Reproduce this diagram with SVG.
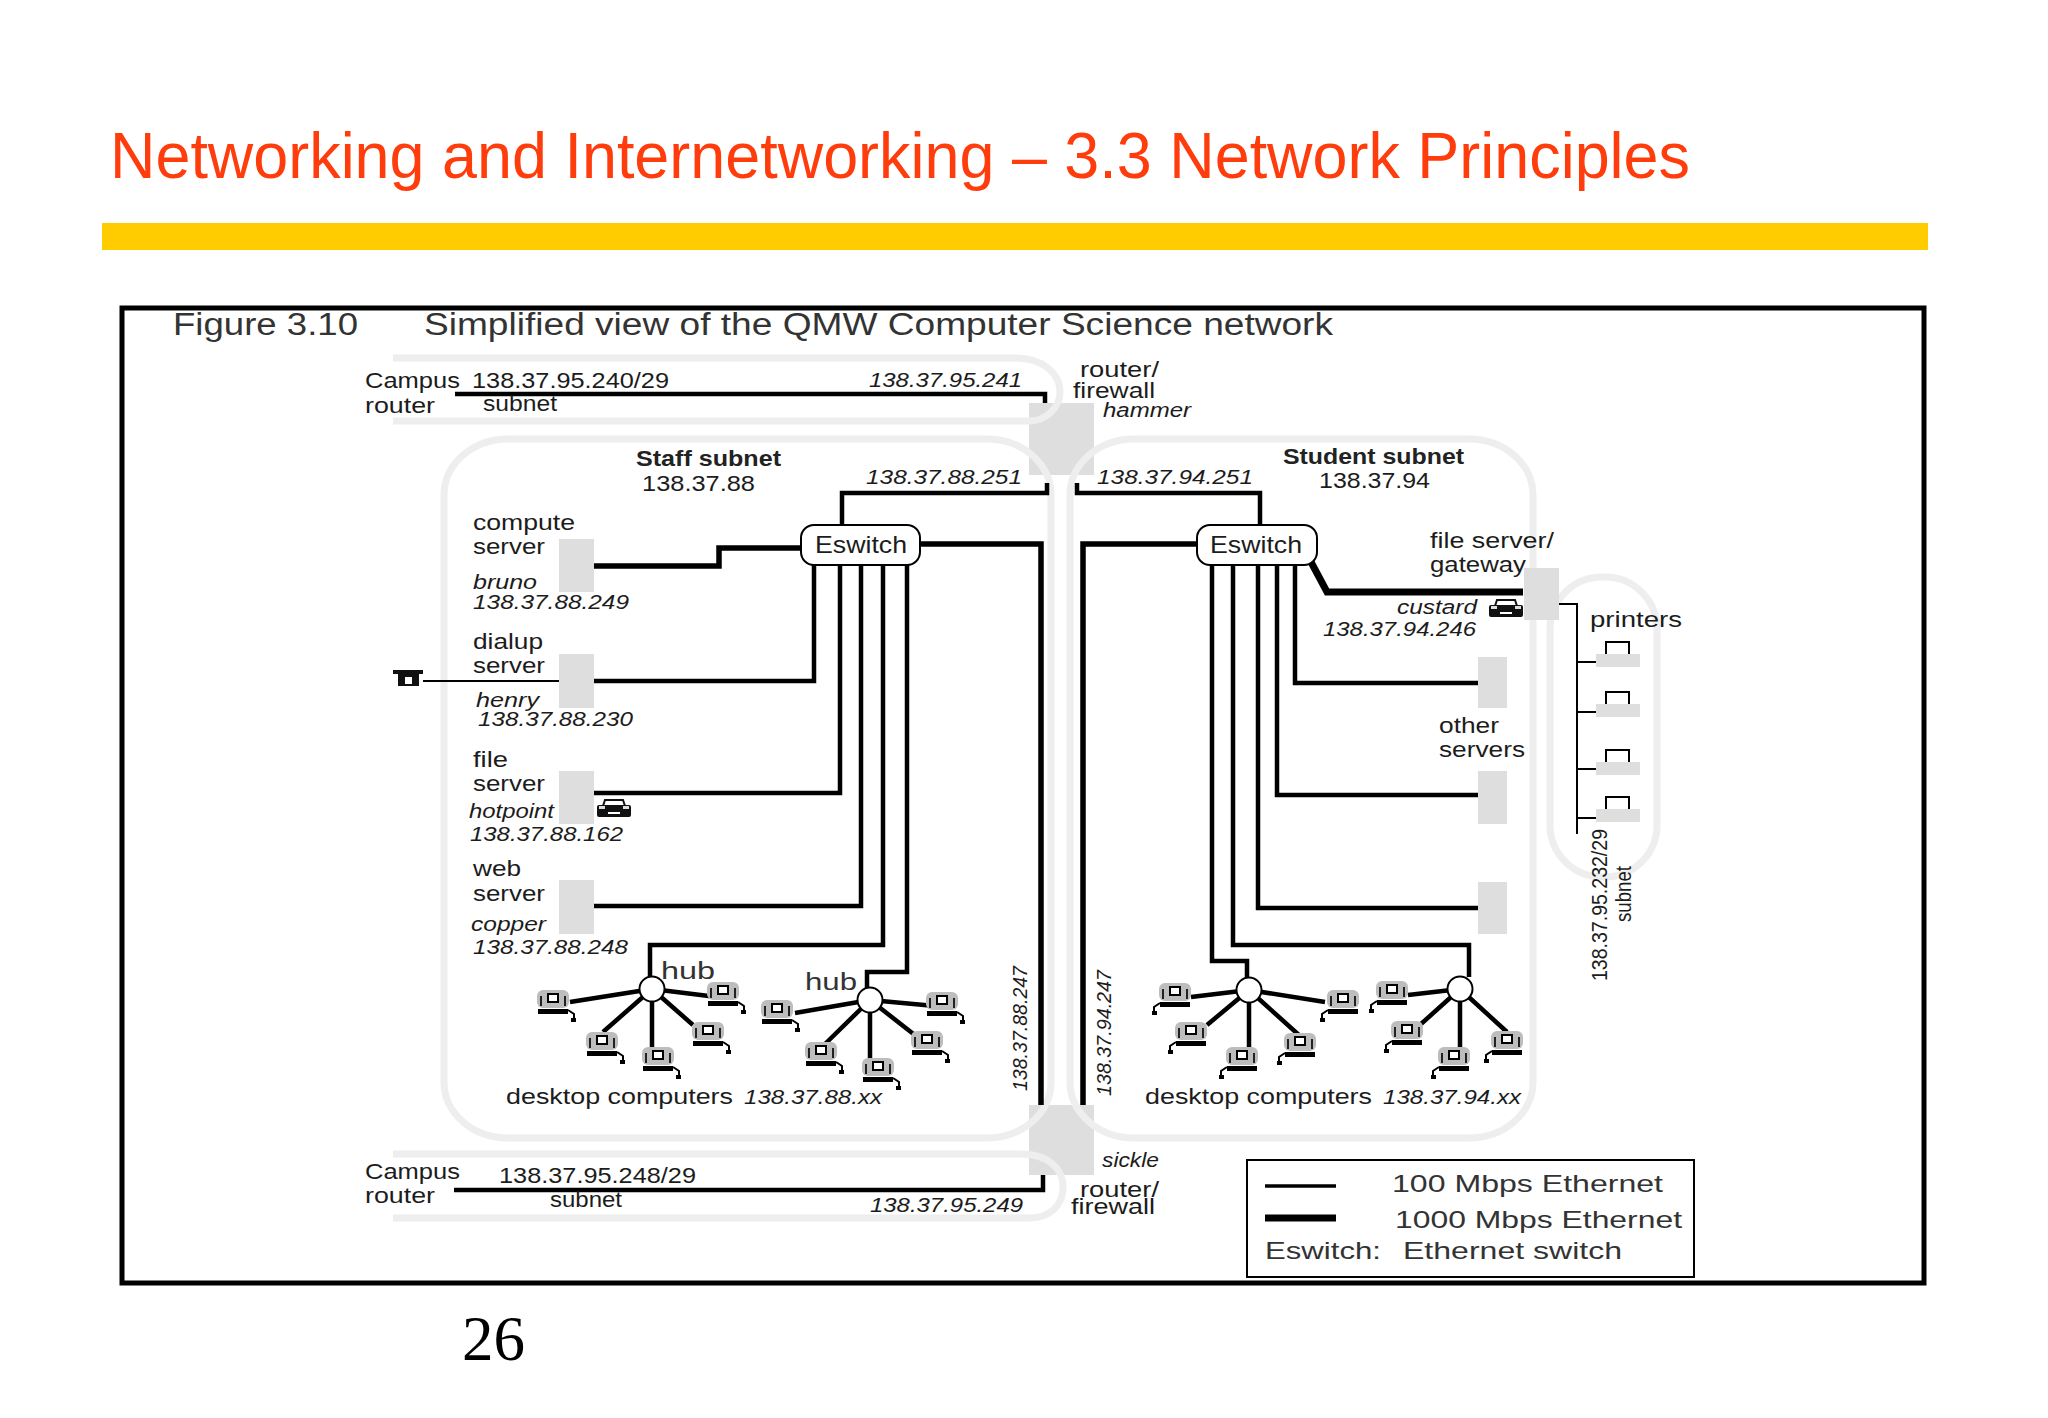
<svg xmlns="http://www.w3.org/2000/svg" width="2048" height="1418" viewBox="0 0 2048 1418">
<style>
text{font-family:"Liberation Sans",Arial,sans-serif;font-size:22px;fill:#1c1c1c}
.i{font-style:italic;font-size:20px}
.b{font-weight:bold;fill:#222}
.fig{font-size:31px;fill:#333}
.sw{font-size:24px}
.hub{font-size:23px;fill:#333}
.leg{font-size:24px;fill:#333}
.band{fill:none;stroke:#eeeeee;stroke-width:7}
.srv{fill:#dedede}
.th{fill:none;stroke:#000;stroke-width:4.5}
.tk{fill:none;stroke:#000;stroke-width:5.5}
.sp{fill:none;stroke:#000;stroke-width:4.5}
.tn{fill:none;stroke:#000;stroke-width:2}
</style>
<defs>
<g id="pc">
<rect x="-16" y="-10" width="32" height="18" rx="6" fill="#bdbdbd"/>
<path d="M-12 -4V6M12 -4V6" stroke="#222" stroke-width="2" fill="none"/>
<rect x="-5" y="-6" width="10" height="8" fill="#fff" stroke="#000" stroke-width="2"/>
<rect x="-15" y="9" width="30" height="5" fill="#000"/>
<path d="M15 10L21 14V20" stroke="#000" stroke-width="2" fill="none"/>
<rect x="18" y="18" width="5" height="4" fill="#000"/>
</g>
<g id="disk">
<path d="M6 7L8 1H26L28 7" fill="#fff" stroke="#111" stroke-width="2"/>
<rect x="0" y="6" width="34" height="12" rx="2" fill="#111"/>
<rect x="2" y="7" width="6" height="3" fill="#ddd"/>
<rect x="26" y="7" width="6" height="3" fill="#ddd"/>
<rect x="11" y="13" width="12" height="2" fill="#fff"/>
</g>
<g id="prn">
<rect x="0" y="12" width="44" height="13" fill="#dedede"/>
<path d="M10 12V0H33V12" fill="none" stroke="#000" stroke-width="2"/>
</g>
</defs>
<rect width="2048" height="1418" fill="#fff"/>

<g id="title">
<text x="110" y="178" textLength="1580" lengthAdjust="spacingAndGlyphs" style="font-size:64px;fill:#ff3c0c">Networking and Internetworking – 3.3 Network Principles</text>
<rect x="102" y="223" width="1826" height="27" fill="#ffcc00"/>
</g>
<rect id="frame" x="122" y="308" width="1802" height="975" fill="#fff" stroke="#000" stroke-width="5"/>
<g id="caption">
<text class="fig" x="173" y="335" textLength="185" lengthAdjust="spacingAndGlyphs">Figure 3.10</text>
<text class="fig" x="424" y="335" textLength="909" lengthAdjust="spacingAndGlyphs">Simplified view of the QMW Computer Science network</text>
</g>

<g id="router-hammer"><rect class="srv" x="1029" y="403" width="65" height="72"/></g>
<g id="router-sickle"><rect class="srv" x="1029" y="1105" width="65" height="70"/></g>

<g id="subnets">
<path class="band" d="M393 358H1015C1045 358 1060 375 1060 392C1060 408 1045 421 1030 421H393"/>
<path class="band" d="M393 1154H1020C1050 1154 1063 1170 1063 1187C1063 1205 1050 1218 1030 1218H393"/>
<rect class="band" x="444" y="439" width="607" height="699" rx="64" ry="56"/>
<rect class="band" x="1070" y="439" width="463" height="699" rx="64" ry="56"/>
<rect class="band" x="1550" y="577" width="107" height="300" rx="52" ry="52"/>
</g>

<g id="connectors">
<path class="th" d="M455 394H1045V403"/>
<path class="th" d="M454 1190H1043V1175"/>
<path class="th" d="M1047 483V493H842V525"/>
<path class="th" d="M1077 483V493H1260V525"/>
<path class="tk" d="M920 544H1041V1105"/>
<path class="tk" d="M1196 544H1083V1105"/>
<path class="tk" d="M594 566H719V548H800"/>
<path class="sp" d="M594 681H814V565"/>
<path class="sp" d="M594 793H840V565"/>
<path class="sp" d="M594 906H861V565"/>
<path class="sp" d="M883 565V945H650V977"/>
<path class="sp" d="M907 565V972H867V990"/>
<path class="tn" d="M423 681H559"/>
<path class="sp" d="M1212 565V961H1247V981"/>
<path class="sp" d="M1233 565V945H1469V977"/>
<path class="sp" d="M1258 565V908H1478"/>
<path class="sp" d="M1277 565V795H1478"/>
<path class="sp" d="M1295 565V683H1478"/>
<path d="M1311 562L1327 592H1523" fill="none" stroke="#000" stroke-width="7"/>
<path class="tn" d="M1559 604H1577V834M1577 662H1596M1577 712H1596M1577 769H1596M1577 818H1596"/>
<g class="sp" id="hub-links">
<path d="M652 989L570 1002M652 989L603 1032M652 989V1048M652 989L693 1025M652 989L717 997"/>
<path d="M870 1000L795 1013M870 1000L824 1045M870 1000V1059M870 1000L916 1036M870 1000L935 1006"/>
<path d="M1249 990L1191 997M1249 990L1207 1025M1249 990V1047M1249 990L1300 1036M1249 990L1325 1002"/>
<path d="M1460 989L1408 995M1460 989L1421 1024M1460 989V1047M1460 989L1507 1032"/>
</g>
<path d="M1265 1186H1336" stroke="#000" stroke-width="3.5"/>
<path d="M1265 1218H1336" stroke="#000" stroke-width="7"/>
</g>

<g id="eswitch-staff"><rect x="801" y="525" width="119" height="40" rx="13" fill="#fff" stroke="#000" stroke-width="2"/><text class="sw" x="815" y="553" textLength="92" lengthAdjust="spacingAndGlyphs">Eswitch</text></g>
<g id="eswitch-student"><rect x="1197" y="525" width="120" height="40" rx="13" fill="#fff" stroke="#000" stroke-width="2"/><text class="sw" x="1210" y="553" textLength="92" lengthAdjust="spacingAndGlyphs">Eswitch</text></g>

<g id="bruno"><rect class="srv" x="559" y="539" width="35" height="53"/></g>
<g id="henry"><rect class="srv" x="559" y="654" width="35" height="54"/>
<g id="phone" fill="#111"><rect x="393" y="670" width="30" height="4"/><rect x="398" y="674" width="21" height="12"/><rect x="405" y="677" width="7" height="7" fill="#fff"/></g></g>
<g id="hotpoint"><rect class="srv" x="559" y="771" width="35" height="53"/><use href="#disk" x="597" y="799"/></g>
<g id="copper"><rect class="srv" x="559" y="880" width="35" height="54"/></g>
<g id="custard"><rect class="srv" x="1524" y="568" width="35" height="52"/><use href="#disk" x="1489" y="599"/></g>
<g id="other-1"><rect class="srv" x="1478" y="657" width="29" height="51"/></g>
<g id="other-2"><rect class="srv" x="1478" y="771" width="29" height="53"/></g>
<g id="other-3"><rect class="srv" x="1478" y="882" width="29" height="52"/></g>

<g id="printers">
<use href="#prn" x="1596" y="642"/>
<use href="#prn" x="1596" y="692"/>
<use href="#prn" x="1596" y="750"/>
<use href="#prn" x="1596" y="797"/>
</g>

<g id="hubs" fill="#fff" stroke="#000" stroke-width="2">
<circle cx="652" cy="989" r="12.5"/><circle cx="870" cy="1000" r="12.5"/><circle cx="1249" cy="990" r="12.5"/><circle cx="1460" cy="989" r="12.5"/>
</g>
<g id="desktops-staff">
<use href="#pc" x="553" y="1000"/><use href="#pc" x="602" y="1042"/><use href="#pc" x="658" y="1057"/><use href="#pc" x="708" y="1032"/><use href="#pc" x="723" y="992"/>
<use href="#pc" x="777" y="1010"/><use href="#pc" x="821" y="1052"/><use href="#pc" x="878" y="1068"/><use href="#pc" x="927" y="1041"/><use href="#pc" x="942" y="1002"/>
</g>
<g id="desktops-student">
<use href="#pc" transform="translate(1175 993) scale(-1 1)"/><use href="#pc" transform="translate(1191 1032) scale(-1 1)"/><use href="#pc" transform="translate(1242 1057) scale(-1 1)"/><use href="#pc" transform="translate(1300 1043) scale(-1 1)"/><use href="#pc" transform="translate(1343 1000) scale(-1 1)"/>
<use href="#pc" transform="translate(1392 991) scale(-1 1)"/><use href="#pc" transform="translate(1407 1031) scale(-1 1)"/><use href="#pc" transform="translate(1454 1057) scale(-1 1)"/><use href="#pc" transform="translate(1507 1041) scale(-1 1)"/>
</g>

<g id="labels">
<text x="365" y="388" textLength="95" lengthAdjust="spacingAndGlyphs">Campus</text>
<text x="365" y="413" textLength="70" lengthAdjust="spacingAndGlyphs">router</text>
<text x="472" y="388" textLength="197" lengthAdjust="spacingAndGlyphs">138.37.95.240/29</text>
<text class="i" x="869" y="387" textLength="153" lengthAdjust="spacingAndGlyphs">138.37.95.241</text>
<text x="483" y="411" textLength="74" lengthAdjust="spacingAndGlyphs">subnet</text>
<text x="1080" y="377" textLength="79" lengthAdjust="spacingAndGlyphs">router/</text>
<text x="1073" y="398" textLength="82" lengthAdjust="spacingAndGlyphs">firewall</text>
<text class="i" x="1103" y="417" textLength="88" lengthAdjust="spacingAndGlyphs">hammer</text>
<text class="b" x="636" y="466" textLength="145" lengthAdjust="spacingAndGlyphs">Staff subnet</text>
<text x="642" y="491" textLength="113" lengthAdjust="spacingAndGlyphs">138.37.88</text>
<text class="i" x="866" y="484" textLength="156" lengthAdjust="spacingAndGlyphs">138.37.88.251</text>
<text class="i" x="1097" y="484" textLength="156" lengthAdjust="spacingAndGlyphs">138.37.94.251</text>
<text class="b" x="1283" y="464" textLength="181" lengthAdjust="spacingAndGlyphs">Student subnet</text>
<text x="1319" y="488" textLength="111" lengthAdjust="spacingAndGlyphs">138.37.94</text>
<text x="473" y="530" textLength="102" lengthAdjust="spacingAndGlyphs">compute</text>
<text x="473" y="554" textLength="72" lengthAdjust="spacingAndGlyphs">server</text>
<text class="i" x="473" y="589" textLength="64" lengthAdjust="spacingAndGlyphs">bruno</text>
<text class="i" x="473" y="609" textLength="156" lengthAdjust="spacingAndGlyphs">138.37.88.249</text>
<text x="473" y="649" textLength="70" lengthAdjust="spacingAndGlyphs">dialup</text>
<text x="473" y="673" textLength="72" lengthAdjust="spacingAndGlyphs">server</text>
<text class="i" x="476" y="707" textLength="63" lengthAdjust="spacingAndGlyphs">henry</text>
<text class="i" x="478" y="726" textLength="155" lengthAdjust="spacingAndGlyphs">138.37.88.230</text>
<text x="473" y="767" textLength="35" lengthAdjust="spacingAndGlyphs">file</text>
<text x="473" y="791" textLength="72" lengthAdjust="spacingAndGlyphs">server</text>
<text class="i" x="469" y="818" textLength="85" lengthAdjust="spacingAndGlyphs">hotpoint</text>
<text class="i" x="470" y="841" textLength="153" lengthAdjust="spacingAndGlyphs">138.37.88.162</text>
<text x="473" y="876" textLength="48" lengthAdjust="spacingAndGlyphs">web</text>
<text x="473" y="901" textLength="72" lengthAdjust="spacingAndGlyphs">server</text>
<text class="i" x="471" y="931" textLength="75" lengthAdjust="spacingAndGlyphs">copper</text>
<text class="i" x="473" y="954" textLength="155" lengthAdjust="spacingAndGlyphs">138.37.88.248</text>
<text class="hub" x="661" y="979" textLength="54" lengthAdjust="spacingAndGlyphs">hub</text>
<text class="hub" x="805" y="990" textLength="52" lengthAdjust="spacingAndGlyphs">hub</text>
<text x="506" y="1104" textLength="227" lengthAdjust="spacingAndGlyphs">desktop computers</text>
<text class="i" x="744" y="1104" textLength="138" lengthAdjust="spacingAndGlyphs">138.37.88.xx</text>
<text x="1145" y="1104" textLength="227" lengthAdjust="spacingAndGlyphs">desktop computers</text>
<text class="i" x="1383" y="1104" textLength="138" lengthAdjust="spacingAndGlyphs">138.37.94.xx</text>
<text class="i" transform="translate(1027 1091) rotate(-90)" textLength="125" lengthAdjust="spacingAndGlyphs">138.37.88.247</text>
<text class="i" transform="translate(1111 1096) rotate(-90)" textLength="126" lengthAdjust="spacingAndGlyphs">138.37.94.247</text>
<text x="365" y="1179" textLength="95" lengthAdjust="spacingAndGlyphs">Campus</text>
<text x="365" y="1203" textLength="70" lengthAdjust="spacingAndGlyphs">router</text>
<text x="499" y="1183" textLength="197" lengthAdjust="spacingAndGlyphs">138.37.95.248/29</text>
<text x="550" y="1207" textLength="72" lengthAdjust="spacingAndGlyphs">subnet</text>
<text class="i" x="870" y="1212" textLength="153" lengthAdjust="spacingAndGlyphs">138.37.95.249</text>
<text class="i" x="1102" y="1167" textLength="57" lengthAdjust="spacingAndGlyphs">sickle</text>
<text x="1080" y="1197" textLength="79" lengthAdjust="spacingAndGlyphs">router/</text>
<text x="1071" y="1214" textLength="84" lengthAdjust="spacingAndGlyphs">firewall</text>
<text x="1430" y="548" textLength="124" lengthAdjust="spacingAndGlyphs">file server/</text>
<text x="1430" y="572" textLength="96" lengthAdjust="spacingAndGlyphs">gateway</text>
<text class="i" x="1397" y="614" textLength="80" lengthAdjust="spacingAndGlyphs">custard</text>
<text class="i" x="1323" y="636" textLength="153" lengthAdjust="spacingAndGlyphs">138.37.94.246</text>
<text x="1590" y="627" textLength="92" lengthAdjust="spacingAndGlyphs">printers</text>
<text x="1439" y="733" textLength="60" lengthAdjust="spacingAndGlyphs">other</text>
<text x="1439" y="757" textLength="86" lengthAdjust="spacingAndGlyphs">servers</text>
<text transform="translate(1607 981) rotate(-90)" textLength="152" lengthAdjust="spacingAndGlyphs">138.37.95.232/29</text>
<text transform="translate(1631 922) rotate(-90)" textLength="56" lengthAdjust="spacingAndGlyphs">subnet</text>
</g>

<g id="legend">
<rect x="1247" y="1160" width="447" height="117" fill="none" stroke="#000" stroke-width="2"/>
<text class="leg" x="1392" y="1192" textLength="271" lengthAdjust="spacingAndGlyphs">100 Mbps Ethernet</text>
<text class="leg" x="1395" y="1228" textLength="287" lengthAdjust="spacingAndGlyphs">1000 Mbps Ethernet</text>
<text class="leg" x="1265" y="1259" textLength="116" lengthAdjust="spacingAndGlyphs">Eswitch:</text>
<text class="leg" x="1403" y="1259" textLength="219" lengthAdjust="spacingAndGlyphs">Ethernet switch</text>
</g>
<text id="page" x="462" y="1360" style="font-family:'Liberation Serif',serif;font-size:63px;fill:#000">26</text>
</svg>
